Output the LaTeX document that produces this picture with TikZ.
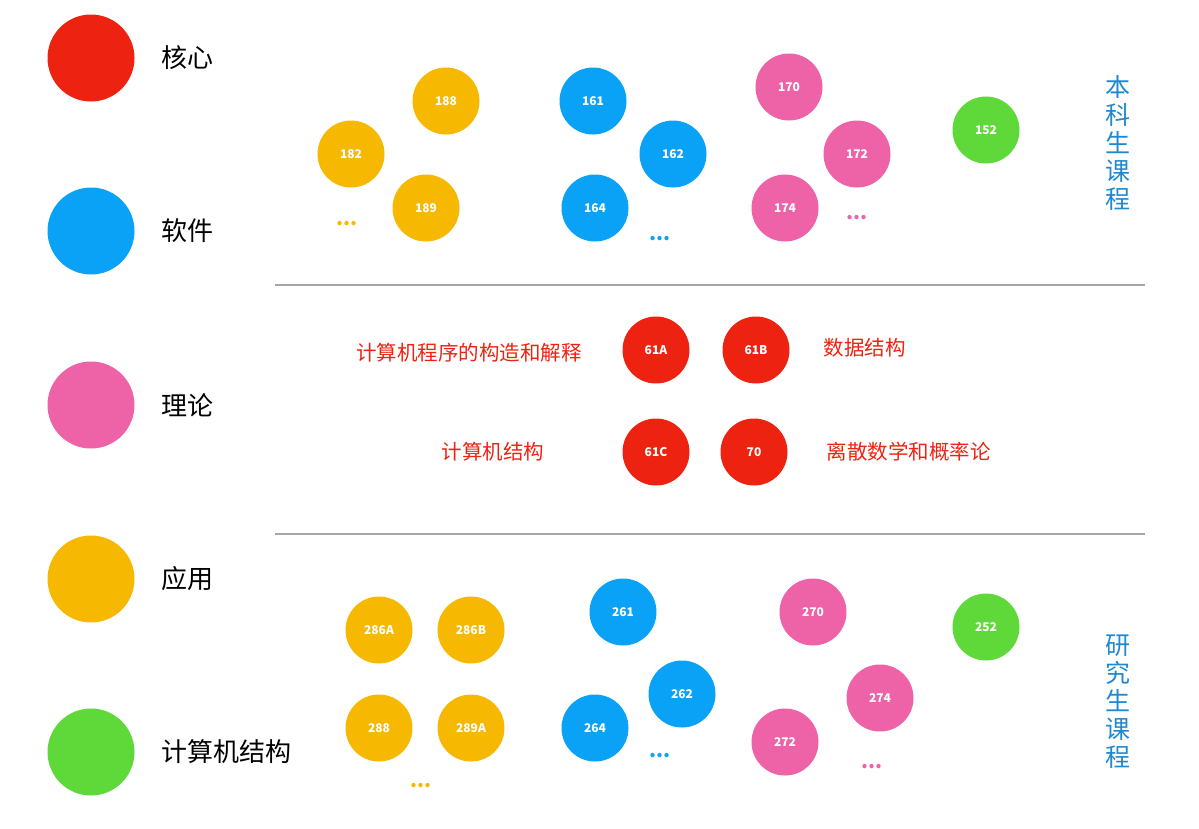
\documentclass[tikz,border=0pt]{standalone}
\usepackage{fontspec}
\setmainfont{Noto Sans CJK SC}
\definecolor{cr}{HTML}{EE2211}
\definecolor{cb}{HTML}{0AA2F7}
\definecolor{cp}{HTML}{EE62A8}
\definecolor{cy}{HTML}{F6B800}
\definecolor{cg}{HTML}{5FD83A}
\definecolor{lblue}{HTML}{1E88D0}
\tikzset{
 leg/.style={circle,fill=#1,minimum size=87pt,inner sep=0},
 crs/.style={circle,fill=#1,minimum size=67pt,inner sep=0,text=white,font=\fontsize{12}{12}\selectfont\bfseries},
 legt/.style={anchor=west,font=\fontsize{26}{28}\selectfont},
 rt/.style={text=cr,font=\fontsize{20.5}{22}\selectfont},
 dt/.style={text=#1,font=\fontsize{20}{20}\selectfont\bfseries},
 vt/.style={text=lblue,font=\fontsize{25}{28}\selectfont,align=center},
 sep/.style={draw=gray!70,line width=1.2pt}
}
\begin{document}
\begin{tikzpicture}[x=1pt,y=-1pt]
\useasboundingbox (0,0) rectangle (1199,828);
\node[leg=cr] (l1) at (91,58) {}; \node[legt] (t1) at (158,58) {核心};
\node[leg=cb] (l2) at (91,231) {}; \node[legt] (t2) at (158,231) {软件};
\node[leg=cp] (l3) at (91,405) {}; \node[legt] (t3) at (158,405) {理论};
\node[leg=cy] (l4) at (91,579) {}; \node[legt] (t4) at (158,579) {应用};
\node[leg=cg] (l5) at (91,752) {}; \node[legt] (t5) at (158,752) {计算机结构};
\coordinate (s1a) at (275,285); \coordinate (s1b) at (1145,285);
\coordinate (s2a) at (275,534); \coordinate (s2b) at (1145,534);
\draw[sep] (s1a) -- (s1b); \draw[sep] (s2a) -- (s2b);
% undergrad
\node[crs=cy] (c188) at (446,101) {188};
\node[crs=cy] (c182) at (351,154) {182};
\node[crs=cy] (c189) at (426,208) {189};
\node[dt=cy] (d1) at (347,224) {...};
\node[crs=cb] (c161) at (593,101) {161};
\node[crs=cb] (c162) at (673,154) {162};
\node[crs=cb] (c164) at (595,208) {164};
\node[dt=cb] (d2) at (660,239) {...};
\node[crs=cp] (c170) at (789,87) {170};
\node[crs=cp] (c172) at (857,154) {172};
\node[crs=cp] (c174) at (785,208) {174};
\node[dt=cp] (d3) at (857,218) {...};
\node[crs=cg] (c152) at (986,130) {152};
\node[vt] (v1) at (1118,143) {本\\科\\生\\课\\程};
% core
\node[crs=cr] (c61a) at (656,350) {61A};
\node[crs=cr] (c61b) at (756,350) {61B};
\node[crs=cr] (c61c) at (656,452) {61C};
\node[crs=cr] (c70) at (754,452) {70};
\node[rt] (r1) at (469,353) {计算机程序的构造和解释};
\node[rt,anchor=west] (r2) at (820,348) {数据结构};
\node[rt] (r3) at (493,452) {计算机结构};
\node[rt,anchor=west] (r4) at (823,452) {离散数学和概率论};
% grad
\node[crs=cy] (c286a) at (379,630) {286A};
\node[crs=cy] (c286b) at (471,630) {286B};
\node[crs=cy] (c288) at (379,728) {288};
\node[crs=cy] (c289a) at (471,728) {289A};
\node[dt=cy] (d4) at (421,786) {...};
\node[crs=cb] (c261) at (623,612) {261};
\node[crs=cb] (c262) at (682,694) {262};
\node[crs=cb] (c264) at (595,728) {264};
\node[dt=cb] (d5) at (660,756) {...};
\node[crs=cp] (c270) at (813,612) {270};
\node[crs=cp] (c274) at (880,698) {274};
\node[crs=cp] (c272) at (785,742) {272};
\node[dt=cp] (d6) at (872,767) {...};
\node[crs=cg] (c252) at (986,627) {252};
\node[vt] (v2) at (1118,702) {研\\究\\生\\课\\程};
\end{tikzpicture}
\end{document}
